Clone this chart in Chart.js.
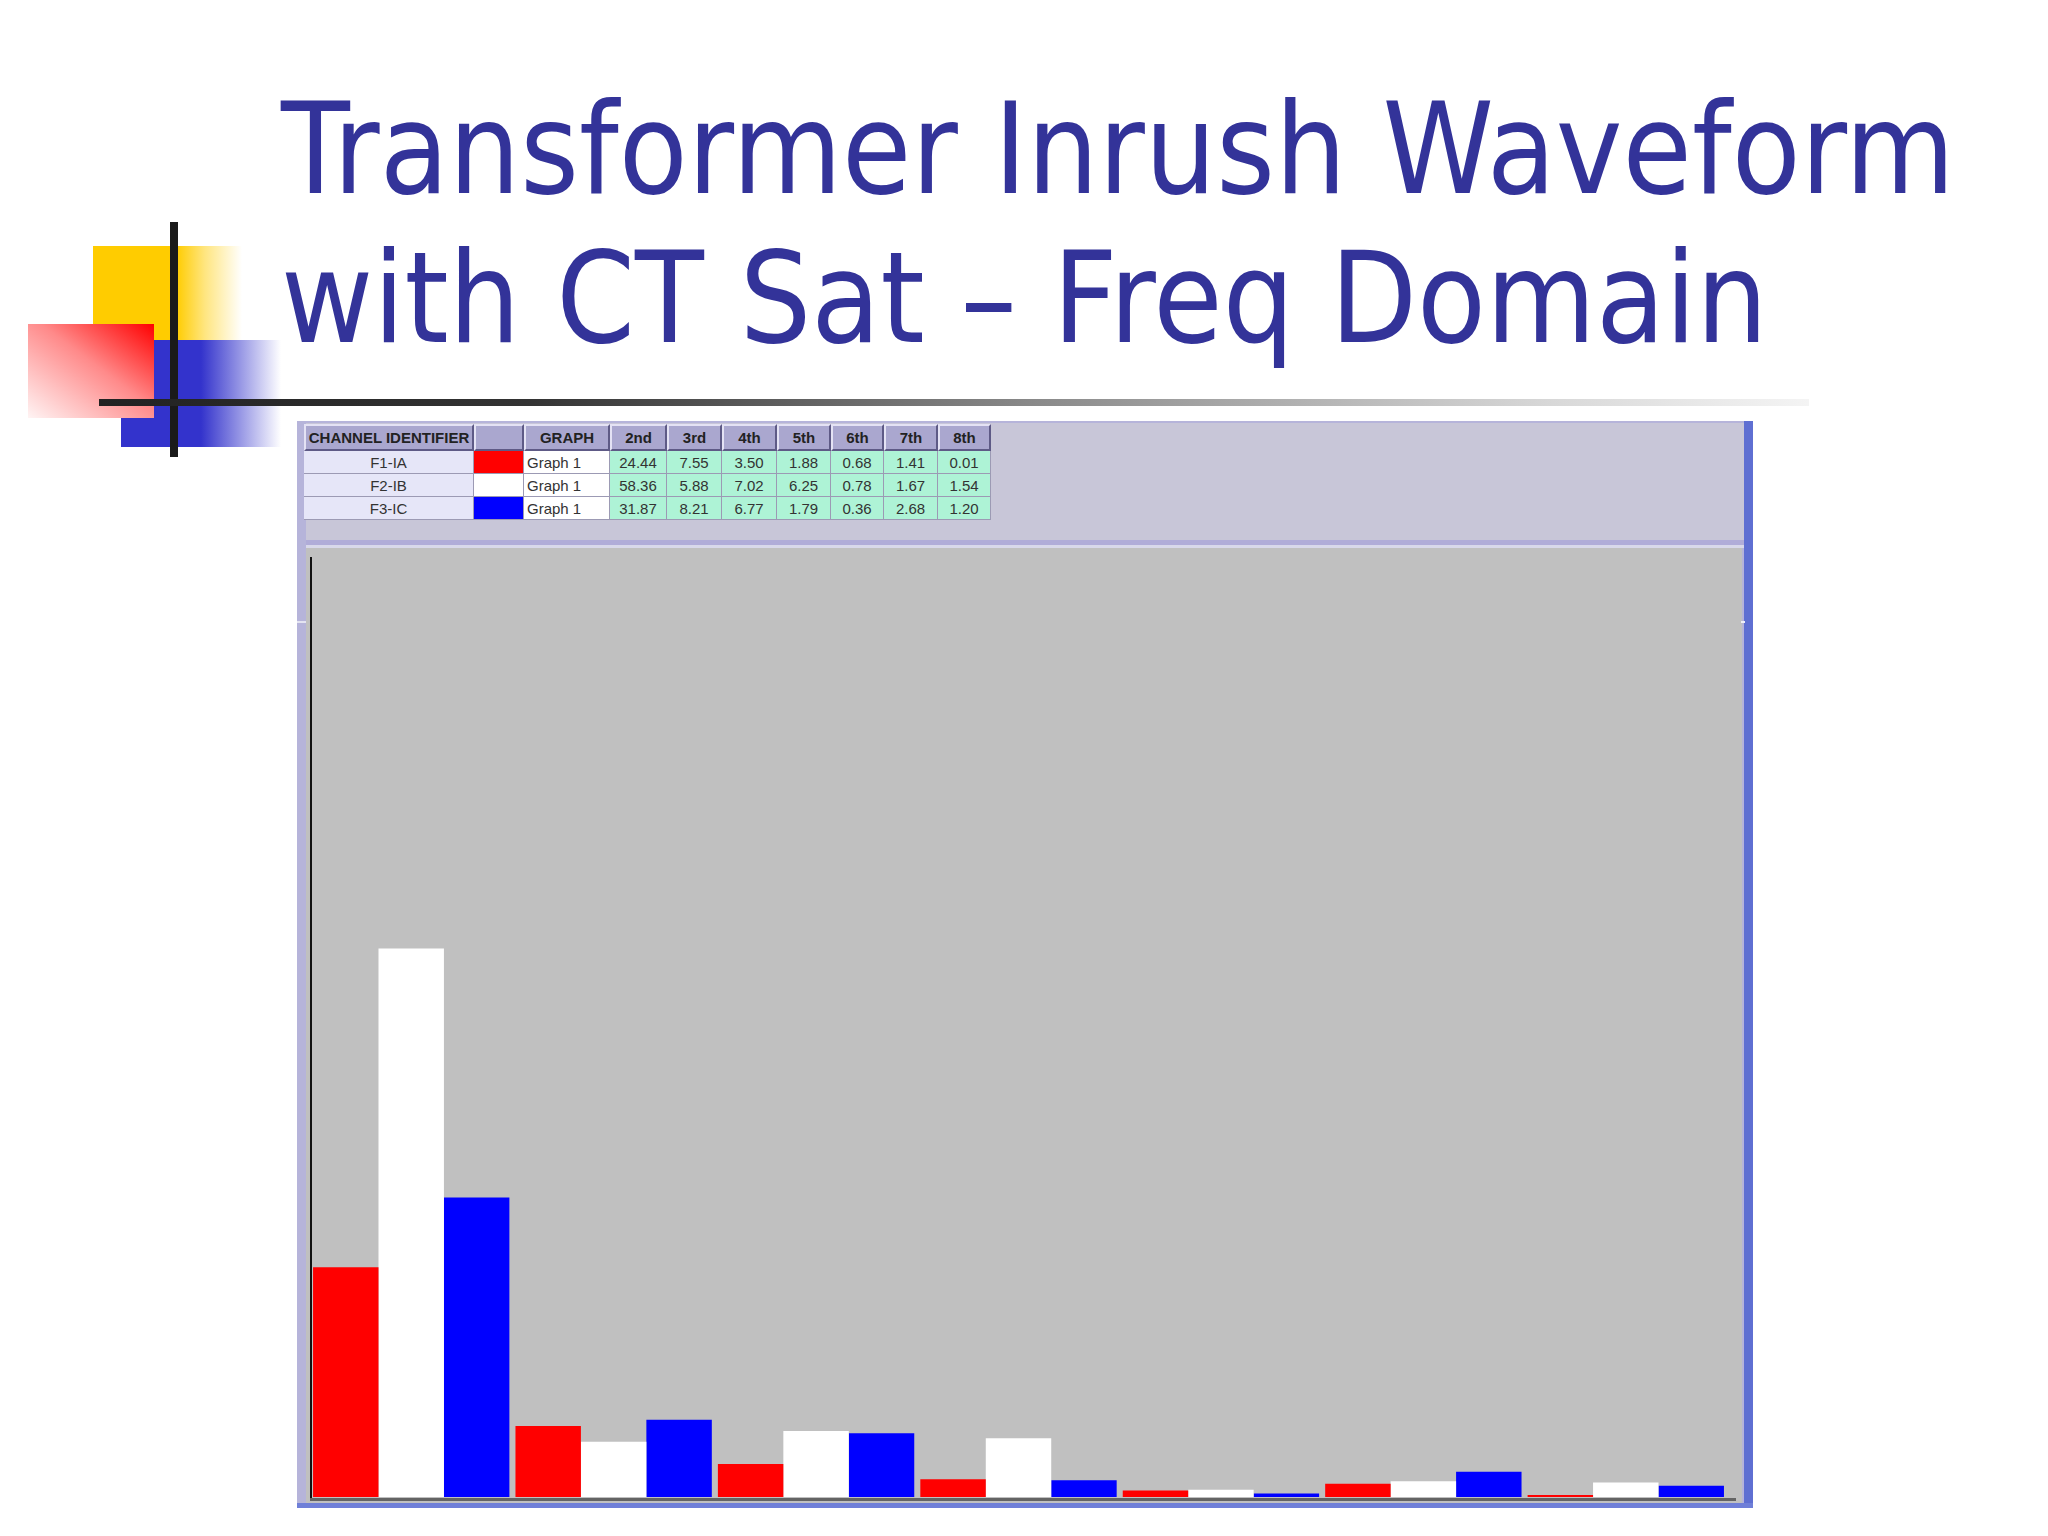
<!DOCTYPE html>
<html>
<head>
<meta charset="utf-8">
<script src="https://cdn.jsdelivr.net/npm/chart.js@4.4.1/dist/chart.umd.min.js"></script>
<style>
  html, body { margin: 0; padding: 0; background: #ffffff; }
  #page { position: relative; width: 2048px; height: 1536px; overflow: hidden; background: #ffffff; }
  .abs { position: absolute; }
  .title { position: absolute; left: 281px; font-family: "DejaVu Sans", sans-serif; font-size: 127px;
           line-height: 148px; color: #333399; white-space: nowrap; transform-origin: 0 0; }
  #table { position: absolute; left: 304px; top: 424px; border-collapse: separate; border-spacing: 0;
           font-family: "Liberation Sans Narrow", "Liberation Sans", sans-serif; font-size: 15px; color: #333; }
  #table td { padding: 0; text-align: center; border-right: 1px solid #9c9ab4; border-bottom: 1px solid #9c9ab4; }
  #table tr.head td { background: #aaa7cf; font-weight: bold; color: #222; height: 23px;
                      border-top: 2px solid #e4e2f4; border-left: 2px solid #e4e2f4;
                      border-right: 2px solid #5e5a86; border-bottom: 2px solid #5e5a86; }
  #table tr.row td { height: 22px; }
  #table td.chan { background: #e6e6f8; }
  #table td.graph { background: #ffffff; text-align: left; padding-left: 3px; }
  #table td.val { background: #aef3d6; }
</style>
</head>
<body>
<div id="page">
  <!-- slide decoration -->
  <div class="abs" style="left:93px;top:246px;width:149px;height:94px;background:linear-gradient(to right,#ffcc00 0%,#ffcc00 56%,rgba(255,204,0,0.5) 75%,rgba(255,204,0,0) 100%);"></div>
  <div class="abs" style="left:121px;top:340px;width:160px;height:107px;background:linear-gradient(to right,#3333cc 0%,#3333cc 50%,rgba(51,51,204,0.5) 75%,rgba(51,51,204,0) 100%);"></div>
  <div class="abs" style="left:28px;top:324px;width:126px;height:94px;background:linear-gradient(to bottom left,#ff0000 0%,#ff8a8a 45%,#fff4f4 100%);"></div>
  <div class="abs" style="left:170px;top:222px;width:8px;height:235px;background:#1a1a1a;"></div>
  <div class="abs" style="left:99px;top:399px;width:1710px;height:7px;background:linear-gradient(to right,#222 0%,#333 25%,#8a8a8a 55%,#d8d8d8 85%,#f4f4f4 100%);"></div>

  <div class="title" id="t1" style="top:75px;">Transformer Inrush Waveform</div>
  <div class="title" id="t2" style="top:224px;">with CT Sat – Freq Domain</div>

  <!-- analyser window frame -->
  <div class="abs" style="left:297px;top:421px;width:1456px;height:1087px;background:#b6b4da;"></div>
  <div class="abs" style="left:306px;top:423px;width:1438px;height:117px;background:#c8c6d8;"></div>
  <div class="abs" style="left:306px;top:540px;width:1438px;height:5px;background:#b0acd8;"></div>
  <div class="abs" style="left:306px;top:545px;width:1438px;height:3px;background:#d8d8ea;"></div>
  <div class="abs" style="left:306px;top:548px;width:1436px;height:955px;background:#c0c0c0;"></div>
  <div class="abs" style="left:1744px;top:421px;width:9px;height:1087px;background:#5f6fd2;"></div>
  <div class="abs" style="left:297px;top:1503px;width:1456px;height:5px;background:#6f7fd8;"></div>
  <div class="abs" style="left:297px;top:621px;width:9px;height:2px;background:#e4e4f2;"></div>
  <div class="abs" style="left:1741px;top:621px;width:4px;height:2px;background:#f0f0f8;"></div>

  <table id="table"></table>

  <div class="abs" style="left:310px;top:557px;width:1417px;height:940px;">
    <canvas id="harmonicsChart"></canvas>
  </div>
  <div class="abs" style="left:310px;top:557px;width:2px;height:944px;background:#111;"></div>
  <div class="abs" style="left:310px;top:1498px;width:1426px;height:3px;background:#646464;"></div>
</div>

<script>
const HARMONICS = ['2nd', '3rd', '4th', '5th', '6th', '7th', '8th']
const CHANNELS = ['F1-IA', 'F2-IB', 'F3-IC']
const GRAPHS = ['Graph 1', 'Graph 1', 'Graph 1']
const IA = [24.44, 7.55, 3.50, 1.88, 0.68, 1.41, 0.01]
const IB = [58.36, 5.88, 7.02, 6.25, 0.78, 1.67, 1.54]
const IC = [31.87, 8.21, 6.77, 1.79, 0.36, 2.68, 1.20]
const Y_MAX = 100

const COLORS = { red: '#ff0000', white: '#ffffff', blue: '#0000ff' }
const SERIES = [IA, IB, IC]
const SERIES_COLORS = [COLORS.red, COLORS.white, COLORS.blue]

// fit the title to the slide width (Tahoma is narrower than DejaVu)
const t1 = document.getElementById('t1')
const t2 = document.getElementById('t2')
const sx = 1674 / t1.getBoundingClientRect().width
t1.style.transform = 'scaleX(' + sx + ')'
t2.style.transform = 'scaleX(' + sx + ')'

// channel table
const colWidths = [170, 50, 86, 57, 55, 55, 54, 53, 54, 53]
const table = document.getElementById('table')
let head = '<tr class="head"><td style="width:' + (colWidths[0] - 4) + 'px">CHANNEL IDENTIFIER</td>'
head += '<td style="width:' + (colWidths[1] - 4) + 'px"></td>'
head += '<td style="width:' + (colWidths[2] - 4) + 'px">GRAPH</td>'
HARMONICS.forEach((h, i) => {
  head += '<td style="width:' + (colWidths[i + 3] - 4) + 'px">' + h + '</td>'
})
table.innerHTML = head + '</tr>'
CHANNELS.forEach((ch, r) => {
  let row = '<tr class="row"><td class="chan">' + ch + '</td>'
  row += '<td style="background:' + SERIES_COLORS[r] + '"></td>'
  row += '<td class="graph">' + GRAPHS[r] + '</td>'
  SERIES[r].forEach(v => { row += '<td class="val">' + v.toFixed(2) + '</td>' })
  table.innerHTML += row + '</tr>'
})

var harmonicsData = {
  labels: HARMONICS,
  datasets: CHANNELS.map((ch, i) => ({
    label: ch,
    data: SERIES[i],
    backgroundColor: SERIES_COLORS[i],
    borderWidth: 0,
    minBarLength: 2,
    categoryPercentage: 0.97,
    barPercentage: 1.0
  }))
}

var harmonicsOptions = {
  responsive: true,
  maintainAspectRatio: false,
  animation: false,
  layout: { padding: 0 },
  scales: {
    x: { display: false },
    y: { display: false, min: 0, max: Y_MAX }
  },
  plugins: {
    legend: { display: false },
    tooltip: { enabled: false },
    title: { display: false }
  }
}

const harmonicsChart = new Chart(
  document.getElementById('harmonicsChart'),
  { type: 'bar', data: harmonicsData, options: harmonicsOptions }
)
</script>
</body>
</html>
